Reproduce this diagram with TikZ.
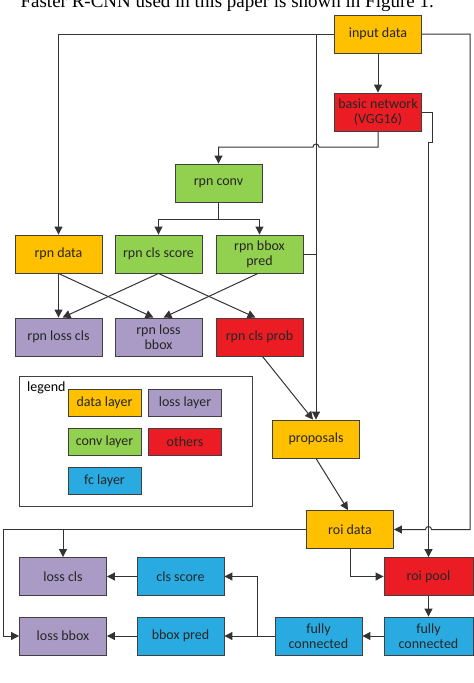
\documentclass[tikz,border=0pt]{standalone}
\usepackage{fontspec}
\setmainfont{Carlito}
\newfontfamily\capfont{Liberation Serif}
\usetikzlibrary{arrows.meta,positioning}

\definecolor{datayellow}{HTML}{FFC000}
\definecolor{losspurple}{HTML}{A99BC6}
\definecolor{convgreen}{HTML}{92D050}
\definecolor{othersred}{HTML}{EC1C24}
\definecolor{fcblue}{HTML}{29ABE2}

\tikzset{
  layer/.style={draw=black!75, line width=0.9pt, minimum width=87, minimum height=38,
    inner sep=1pt, align=center, text=black!85},
  key/.style={layer, minimum width=73, minimum height=27},
  link/.style={line width=1pt, draw=black!80},
}

\begin{document}
\begin{tikzpicture}[x=1pt, y=-1pt, font=\fontsize{14}{15}\selectfont,
    >={Triangle[length=8pt,width=8pt]}]
  \useasboundingbox (0,0) rectangle (474,683);

  % caption lines cut by the page
  \node[font={\capfont\fontsize{19}{20}\selectfont}, anchor=base east, inner sep=0] (captop) at (434,7)
    {Faster R-CNN used in this paper is shown in Figure 1.};
  \node[font={\capfont\fontsize{19}{20}\selectfont}, anchor=base west, inner sep=0] (capbottom) at (50,698)
    {Figure 1. Complete structure of Faster R-CNN};

  % layers
  \node[layer, fill=datayellow] (input) at (378,34) {input data};
  \node[layer, fill=othersred] (basic) at (378,112) {basic network\\(VGG16)};
  \node[layer, fill=convgreen] (rpnconv) at (218.5,183) {rpn conv};
  \node[layer, fill=datayellow] (rpndata) at (58.5,254) {rpn data};
  \node[layer, fill=convgreen] (rpnscore) at (158.5,254) {rpn cls score};
  \node[layer, fill=convgreen] (rpnbbox) at (259.5,254) {rpn bbox\\pred};
  \node[layer, fill=losspurple] (rpnlosscls) at (58.5,337) {rpn loss cls};
  \node[layer, fill=losspurple] (rpnlossbbox) at (158.5,337) {rpn loss\\bbox};
  \node[layer, fill=othersred] (rpnprob) at (259.5,337) {rpn cls prob};
  \node[layer, fill=datayellow] (proposals) at (316,439) {proposals};
  \node[layer, fill=datayellow] (roidata) at (350,529.5) {roi data};
  \node[layer, fill=othersred, minimum width=89] (roipool) at (428.5,576.5) {roi pool};
  \node[layer, fill=fcblue, minimum width=89] (fc2) at (428.5,636) {fully\\connected};
  \node[layer, fill=fcblue] (fc1) at (318.5,636) {fully\\connected};
  \node[layer, fill=fcblue] (bboxpred) at (180.5,636) {bbox pred};
  \node[layer, fill=fcblue] (clsscore) at (180.5,576.5) {cls score};
  \node[layer, fill=losspurple] (losscls) at (63,576.5) {loss cls};
  \node[layer, fill=losspurple] (lossbbox) at (63,636) {loss bbox};

  % legend
  \node[draw=black!75, line width=0.9pt, minimum width=233, minimum height=130] (legend) at (135.5,441) {};
  \node[anchor=base west, inner sep=0] (legendtitle) at (27,391) {legend};
  \foreach \name/\col/\txt/\x/\y in {kdata/datayellow/data layer/104.5/402.5,
      kloss/losspurple/loss layer/185/402.5, kconv/convgreen/conv layer/104.5/441.5,
      kother/othersred/others/185/441.5, kfc/fcblue/fc layer/104.5/480.5}
    \node[key, fill=\col] (\name) at (\x,\y) {\txt};

  % outer routes
  \coordinate (edgeL) at (3,0);
  \coordinate (edgeR) at (470,0);
  \coordinate (hopA) at (proposals.north |- 0,147);
  \coordinate (hopB) at (roipool.north |- roidata.east);
  \draw[link, ->] (input) -- (basic);
  \draw[link, ->] (basic.south) |- ([xshift=3]hopA) arc[start angle=0, end angle=-180, radius=3]
    -| (rpnconv.north);
  \draw[link, ->] (input.west) -| (rpndata.north);
  \draw[link, ->] (input.west) -| (proposals.north);
  \draw[link] (rpnbbox.east) -- (rpnbbox.east -| proposals.north);
  \draw[link, ->] (input.east) -- (input.east -| edgeR) |- ([xshift=3]hopB)
    arc[start angle=0, end angle=-180, radius=3] -- (roidata.east);
  \draw[link, ->] (basic.east) -- ++(11,0) -- ++(0,30) -| (roipool.north);

  % rpn part
  \draw[link, ->] (rpnconv.south) -- ++(0,17) -| (rpnscore.north);
  \draw[link, ->] (rpnconv.south) -- ++(0,17) -| (rpnbbox.north);
  \draw[link, ->] (rpndata.south) -- (rpnlosscls.north);
  \draw[link, ->] (rpndata.south) -- ([xshift=-5]rpnlossbbox.north);
  \draw[link, ->] (rpnscore.south) -- ([xshift=4]rpnlosscls.north);
  \draw[link, ->] (rpnscore.south) -- ([xshift=-4]rpnprob.north);
  \draw[link, ->] ([xshift=-1.5]rpnbbox.south) -- ([xshift=5]rpnlossbbox.north);
  \draw[link, ->] ([xshift=3]rpnprob.south) -- ([xshift=-3]proposals.north);

  % roi part
  \draw[link, ->] (proposals.south) -- ([xshift=-2]roidata.north);
  \draw[link, ->] (roidata.west) -- (roidata.west -| edgeL) |- (lossbbox.west);
  \draw[link, ->] (roidata.west -| losscls.north) -- (losscls.north);
  \draw[link, ->] (roidata.south) |- (roipool.west);
  \draw[link, ->] (roipool) -- (fc2);
  \draw[link, ->] (fc2) -- (fc1);
  \draw[link, ->] (fc1) -- (bboxpred);
  \draw[link, ->] ([xshift=-17]fc1.west) |- (clsscore.east);
  \draw[link, ->] (clsscore) -- (losscls);
  \draw[link, ->] (bboxpred) -- (lossbbox);
\end{tikzpicture}
\end{document}
